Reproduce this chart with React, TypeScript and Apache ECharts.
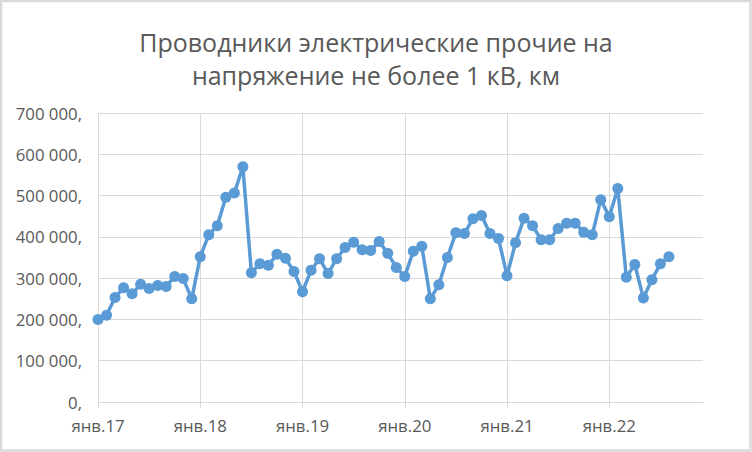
import React, { useEffect, useRef } from "react";
import * as echarts from "echarts";

const TITLE_LINES = ["Проводники электрические прочие на", "напряжение не более 1 кВ, км"];

const MONTHS = ["янв", "фев", "мар", "апр", "май", "июн", "июл", "авг", "сен", "окт", "ноя", "дек"];
const YEARS = ["17", "18", "19", "20", "21", "22"];

const CATEGORIES: string[] = YEARS.flatMap((y) => MONTHS.map((m) => `${m}.${y}`));

const VALUES: (number | null)[] = [
  // 2017
  200000, 210000, 253000, 277000, 262000, 285000, 275000, 282000, 280000, 304000, 299000, 250000,
  // 2018
  352000, 405000, 427000, 496000, 506000, 570000, 313000, 335000, 331000, 358000, 348000, 316000,
  // 2019
  267000, 319000, 347000, 311000, 347000, 374000, 387000, 369000, 367000, 389000, 360000, 326000,
  // 2020
  304000, 365000, 377000, 250000, 284000, 350000, 410000, 408000, 444000, 452000, 408000, 396000,
  // 2021
  306000, 386000, 445000, 427000, 393000, 393000, 420000, 433000, 433000, 411000, 405000, 490000,
  // 2022
  449000, 517000, 302000, 333000, 252000, 296000, 335000, 352000,
];

const Y_MIN = 0;
const Y_MAX = 700000;
const Y_STEP = 100000;

const formatY = (v: number) => {
  const s = Math.round(v).toString().replace(/\B(?=(\d{3})+(?!\d))/g, " ");
  return `${s},`;
};

export default function App() {
  const ref = useRef<HTMLDivElement>(null);

  useEffect(() => {
    if (!ref.current) return;
    const chart = echarts.init(ref.current, undefined, { renderer: "svg" });
    const data = CATEGORIES.map((_, i) => (i < VALUES.length ? VALUES[i] : null));
    chart.setOption({
      animation: false,
      backgroundColor: "#ffffff",
      title: {
        text: TITLE_LINES.join("\n"),
        left: "center",
        top: 20,
        textStyle: {
          fontFamily: "Open Sans",
          fontSize: 25,
          fontWeight: "normal",
          color: "#595959",
          lineHeight: 33,
        },
      },
      graphic: [
        {
          type: "rect",
          shape: { x: 1, y: 1, width: 749.5, height: 449.5 },
          style: { fill: "none", stroke: "#d9d9d9", lineWidth: 2.5 },
          silent: true,
        },
      ],
      grid: { left: 98, right: 49, top: 113, bottom: 50, containLabel: false },
      xAxis: {
        type: "category",
        data: CATEGORIES,
        boundaryGap: false,
        axisLine: { show: true, lineStyle: { color: "#d9d9d9", width: 1 } },
        axisTick: { show: true, interval: 11, length: 6, lineStyle: { color: "#d9d9d9" } },
        splitLine: { show: true, interval: 11, lineStyle: { color: "#d9d9d9", width: 1 } },
        axisLabel: {
          interval: 11,
          color: "#595959",
          fontFamily: "Open Sans",
          fontSize: 16.8,
          margin: 15,
        },
      },
      yAxis: {
        type: "value",
        min: Y_MIN,
        max: Y_MAX,
        interval: Y_STEP,
        axisLine: { show: false },
        axisTick: { show: false },
        splitLine: { show: true, lineStyle: { color: "#d9d9d9", width: 1 } },
        axisLabel: {
          formatter: formatY,
          color: "#595959",
          fontFamily: "Open Sans",
          fontSize: 16.8,
          margin: 16,
        },
      },
      series: [
        {
          type: "line",
          data,
          connectNulls: false,
          symbol: "circle",
          symbolSize: 11,
          showSymbol: true,
          showAllSymbol: true,
          lineStyle: { color: "#5b9bd5", width: 3.5 },
          itemStyle: { color: "#5b9bd5" },
        },
      ],
    });
    return () => chart.dispose();
  }, []);

  return (
    <div
      ref={ref}
      style={{ position: "fixed", left: 0, top: 0, width: 752, height: 452 }}
    />
  );
}
